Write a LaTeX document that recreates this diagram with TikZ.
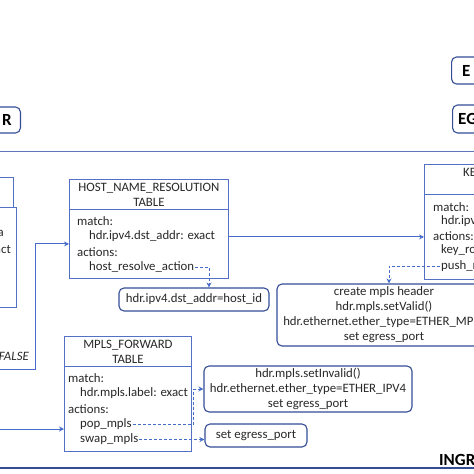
\documentclass[tikz,border=0pt]{standalone}
\usepackage{fontspec}
\setmainfont{Carlito}
\usetikzlibrary{arrows.meta,calc}
\definecolor{tblue}{RGB}{84,112,196}
\definecolor{navy}{RGB}{52,76,150}
\definecolor{ablue}{RGB}{68,108,200}
\definecolor{lineg}{RGB}{96,118,184}
\definecolor{txt}{RGB}{40,40,40}
\begin{document}
\begin{tikzpicture}[x=1pt,y=-1pt,
  font=\fontsize{12.8}{15}\selectfont, text=txt,
  tbl/.style={draw=tblue,line width=0.9pt,inner sep=0pt,anchor=north west,align=center},
  rbox/.style={draw=navy,line width=1.1pt,rounded corners=5pt,align=center,inner sep=0pt},
  ln/.style={anchor=west,inner sep=1pt},
  arr/.style={draw=ablue,line width=1pt,-{Stealth[length=5pt,width=5pt]}},
  darr/.style={arr,dash pattern=on 3pt off 2pt},
  lbl/.style={font=\fontsize{17}{20}\selectfont\bfseries,text=black,inner sep=0pt}]
\useasboundingbox (0,0) rectangle (474,474);
\fill[white] (0,0) rectangle (474,474);
\clip (0,0) rectangle (474,474);

% section labels
\node[rbox, minimum width=60pt, minimum height=26pt, anchor=east] (rbx) at (21,120) {};
\node[lbl, anchor=east] (rtxt) at (12,120) {R};
\node[rbox, minimum width=60pt, minimum height=27pt, anchor=west] (e1) at (451,70.5) {};
\node[lbl, anchor=west] (e1t) at (462,70.5) {E};
\node[rbox, minimum width=60pt, minimum height=28pt, anchor=west] (e2) at (452,119) {};
\node[lbl, anchor=west] (e2t) at (458,119) {EG};
\node[lbl, anchor=west] (ingr) at (439,460) {INGR};

% dividers
\draw[lineg, line width=0.8pt] (0,151) -- (474,151);
\draw[navy, line width=1.6pt] (0,468) -- (474,468);

% left partial table
\node[tbl, minimum width=73pt, minimum height=30pt] (lhead) at (-60,177) {};
\node[tbl, minimum width=76pt, minimum height=100pt] (lbody) at (-60,207) {};
\node[ln, anchor=east] (la) at (5,233) {a};
\node[ln, anchor=east] (lx) at (12,249) {exact};
\node[ln, anchor=east, font=\fontsize{12.8}{15}\selectfont\itshape] (false) at (30,356) {FALSE};
\coordinate (fin) at (0,369);

% host name resolution table
\node[tbl, minimum width=159pt, minimum height=30pt] (hosthead) at (69,179) {HOST\_NAME\_RESOLUTION\\TABLE};
\node[tbl, minimum width=159pt, minimum height=69pt] (hostbody) at (69,209) {};
\node[ln] (hm) at (76,221) {match:};
\node[ln] (hd) at (88,236) {hdr.ipv4.dst\_addr: exact};
\node[ln] (ha) at (76,252) {actions:};
\node[ln] (hra) at (88,267) {host\_resolve\_action};
\node[rbox, minimum width=150pt, minimum height=23pt] (hostid) at (194,299.5) {hdr.ipv4.dst\_addr=host\_id};

% key table
\node[tbl, minimum width=100pt, minimum height=30pt] (keyhead) at (424,164) {};
\node[ln] (keyt) at (462,172) {KE};
\node[tbl, minimum width=100pt, minimum height=85pt] (keybody) at (424,194) {};
\node[ln] (km) at (432,207) {match:};
\node[ln] (kd) at (440,221) {hdr.ipv4.dst\_addr: exact};
\node[ln] (ka) at (432,236) {actions:};
\node[ln] (kr) at (440,250) {key\_ro};
\node[ln] (kp) at (440,266) {push\_mpls};
\node[rbox, minimum width=214pt, minimum height=62pt] (mplshdr) at (384,315) {create mpls header\\hdr.mpls.setValid()\\hdr.ethernet.ether\_type=ETHER\_MPLS\\set egress\_port};

% mpls forward table
\node[tbl, minimum width=127pt, minimum height=30pt] (mplshead) at (64,336) {MPLS\_FORWARD\\TABLE};
\node[tbl, minimum width=127pt, minimum height=85pt] (mplsbody) at (64,366) {};
\node[ln] (mm) at (67,378) {match:};
\node[ln] (ml) at (79,393) {hdr.mpls.label: exact};
\node[ln] (ma) at (67,409) {actions:};
\node[ln] (pop) at (79,424) {pop\_mpls};
\node[ln] (swap) at (79,439.5) {swap\_mpls};
\coordinate (min) at (0,429);
\node[rbox, minimum width=208pt, minimum height=46pt] (setinv) at (308,389) {hdr.mpls.setInvalid()\\hdr.ethernet.ether\_type=ETHER\_IPV4\\set egress\_port};
\node[rbox, minimum width=102pt, minimum height=23pt] (setport) at (256,435.5) {set egress\_port};

% connectors
\draw[arr] (fin) -| ([xshift=-34pt]hostbody.west) -- (hostbody.west);
\draw[arr] (hostbody.east |- keybody.west) -- (keybody.west);
\draw[darr] (hra.east) -| ([xshift=15pt]hostid.north);
\draw[darr] (kp.west) -| ([xshift=5pt]mplshdr.north);
\draw[arr] (min) -- (min -| mplsbody.west);
\draw[darr] (pop.east) -| ([xshift=-10pt]setinv.west) -- (setinv.west);
\draw[darr] (swap.east) -- (swap.east -| setport.west);
\end{tikzpicture}
\end{document}
